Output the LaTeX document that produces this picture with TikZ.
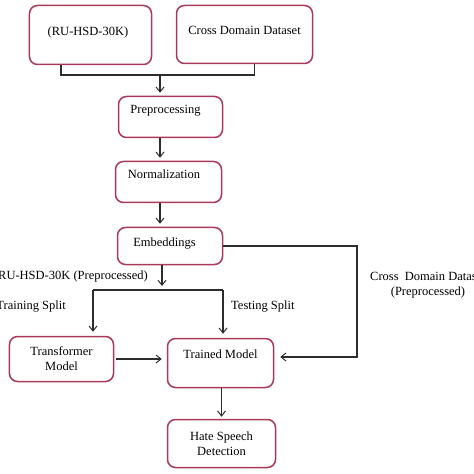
\documentclass[tikz,border=0pt]{standalone}
\usepackage{fontspec}
\setmainfont{Liberation Serif}
\usetikzlibrary{arrows.meta}
\definecolor{boxred}{RGB}{170,58,90}
\definecolor{linegray}{RGB}{45,45,45}
\tikzset{
  box/.style={draw=boxred, line width=1.5bp, rounded corners=8bp, fill=white,
    font=\fontsize{12.5bp}{15bp}\selectfont, inner sep=3bp, text=black},
  lbl/.style={font=\fontsize{12.5bp}{15bp}\selectfont, inner sep=0pt, text=black},
  conn/.style={draw=linegray, line width=1.1bp},
  arr/.style={conn, -{Straight Barb[length=5bp,width=8bp,line width=1bp]}},
}
\begin{document}
\begin{tikzpicture}[x=1bp,y=-1bp]
\fill[white] (0,0) rectangle (474,474);
\useasboundingbox (0,0) rectangle (474,474);

% boxes
\node[box, minimum width=122bp, minimum height=59bp, text height=8bp, text depth=6bp] (b1) at (90.5,35) {(RU-HSD-30K)\hspace*{5bp}};
\node[box, minimum width=136bp, minimum height=58bp, text height=8bp, text depth=7bp] (b2) at (244.5,34.5) {Cross Domain Dataset};
\node[box, minimum width=104bp, minimum height=41bp, text height=8bp, text depth=14bp] (pre) at (170.5,117) {Preprocessing\hspace*{10bp}};
\node[box, minimum width=106bp, minimum height=41bp, text height=8bp, text depth=14bp] (norm) at (168.5,182) {Normalization\hspace*{9bp}};
\node[box, minimum width=105bp, minimum height=37bp, text height=8bp, text depth=8bp] (emb) at (170,246) {Embeddings\hspace*{11bp}};
\node[box, minimum width=104bp, minimum height=45bp, align=center] (trans) at (61.5,359) {Transformer\\Model};
\node[box, minimum width=106bp, minimum height=49bp, text height=8bp, text depth=18bp] (trained) at (220.5,363) {Trained Model};
\node[box, minimum width=108bp, minimum height=48bp, align=center] (hate) at (221.5,443.5) {Hate Speech\\Detection};

% labels
\node[lbl, anchor=east] (l1) at (148,276) {RU-HSD-30K (Preprocessed)};
\node[lbl, anchor=east] (l2) at (66,307) {Training Split};
\node[lbl, anchor=west] (l3) at (231,307) {Testing Split};
\node[lbl, align=center] (l4) at (428,285) {Cross\ \ Domain Dataset\\(Preprocessed)};

% junction coordinates
\coordinate (j) at (160,75);
\coordinate (s) at (162,290);
\coordinate (sl) at (93,290);
\coordinate (sr) at (223,290);
\coordinate (rc) at (357,246);

% bracket joining the two datasets
\draw[conn] ([xshift=-29.5bp]b1.south) |- (j) -| ([xshift=10bp]b2.south);
\draw[arr] (j) -- ([yshift=3bp]j |- pre.north);
\draw[arr] (pre.south -| j) -- ([yshift=3bp]norm.north -| j);
\draw[arr] (norm.south -| j) -- ([yshift=3bp]emb.north -| j);

% embeddings to cross domain path
\draw[arr, shorten >=6bp] (emb.east) -- (rc) |- ([yshift=6bp]trained.east);

% embeddings to split
\draw[arr] (emb.south -| s) -- ([yshift=4bp]s);
\draw[conn] (sl) -- (sr);
\draw[arr, shorten >=4bp] (sl) -- (sl |- trans.north);
\draw[arr, shorten >=4bp] (sr) -- (sr |- trained.north);

% model connections
\draw[arr, shorten <=2bp, shorten >=5bp] (trans.east) -- (trans.east -| trained.west);
\draw[arr, shorten >=2bp] (trained.south -| hate.north) -- (hate.north);
\end{tikzpicture}
\end{document}
